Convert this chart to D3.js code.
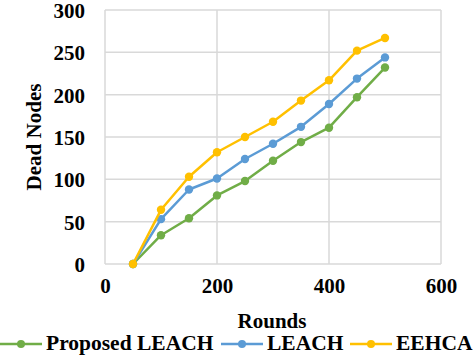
<!DOCTYPE html>
<html><head><meta charset="utf-8">
<script src="https://cdn.jsdelivr.net/npm/d3@7"></script>
<style>body{margin:0;background:#fff}svg{display:block}</style>
</head><body>
<script>
const rounds = [50,100,150,200,250,300,350,400,450,500];
const proposedLeach = [0,34,54,81,98,122,144,161,197,232];
const leach = [0,53,88,101,124,142,162,189,219,244];
const eehca = [0,64,103,132,150,168,193,217,252,267];
const xTicks = [0,200,400,600];
const yTicks = [0,50,100,150,200,250,300];
const seriesNames = ["Proposed LEACH","LEACH","EEHCA"];
const colors = ["#70AD47","#5B9BD5","#FFC000"];

const FONT="'Liberation Serif','Times New Roman',serif";
const W=474,H=356;
const svg=d3.select("body").append("svg").attr("width",W).attr("height",H);
const x=d3.scaleLinear().domain([0,600]).range([105,441]);
const y=d3.scaleLinear().domain([0,300]).range([264,10]);

function styleText(sel,fs){sel.style("font-family",FONT).style("font-weight","bold").style("font-size",fs+"px").style("fill","#000");}

const g=svg.append("g");
g.selectAll(".hg").data(yTicks).join("line")
 .attr("x1",x(0)).attr("x2",x(600)).attr("y1",d=>y(d)).attr("y2",d=>y(d))
 .attr("stroke","#d9d9d9").attr("stroke-width",1.5);
g.selectAll(".vg").data(xTicks).join("line")
 .attr("y1",y(0)).attr("y2",y(300)).attr("x1",d=>x(d)).attr("x2",d=>x(d))
 .attr("stroke","#d9d9d9").attr("stroke-width",1.5);

const fs=21;
const yAxis=d3.axisLeft(y).tickValues(yTicks).tickSize(0).tickPadding(20);
const ya=svg.append("g").attr("transform",`translate(${x(0)},0)`).call(yAxis);
ya.select(".domain").remove();
styleText(ya.selectAll("text"),fs);
ya.selectAll("text").attr("dy","0.36em");
const xAxis=d3.axisBottom(x).tickValues(xTicks).tickSize(0).tickPadding(14);
const xa=svg.append("g").attr("transform",`translate(0,${y(0)})`).call(xAxis);
xa.select(".domain").remove();
styleText(xa.selectAll("text"),fs);

styleText(svg.append("text").attr("transform",`translate(41,137) rotate(-90)`).attr("text-anchor","middle").text("Dead Nodes"),fs);
styleText(svg.append("text").attr("x",272).attr("y",328).attr("text-anchor","middle").text("Rounds"),fs);

const data=[proposedLeach,leach,eehca];
const line=d3.line().x((d,i)=>x(rounds[i])).y(d=>y(d));
data.forEach((s,k)=>{
  svg.append("path").datum(s).attr("d",line).attr("fill","none")
    .attr("stroke",colors[k]).attr("stroke-width",2.5).attr("stroke-linejoin","round");
  svg.selectAll(".m"+k).data(s).join("circle")
    .attr("cx",(d,i)=>x(rounds[i])).attr("cy",d=>y(d)).attr("r",4.2).attr("fill",colors[k]);
});

const legX=[0,221,350];
const leg=svg.append("g");
seriesNames.forEach((n,k)=>{
  const lx=legX[k], ly=344;
  leg.append("line").attr("x1",lx).attr("x2",lx+42).attr("y1",ly).attr("y2",ly)
    .attr("stroke",colors[k]).attr("stroke-width",2.5);
  leg.append("circle").attr("cx",lx+21).attr("cy",ly).attr("r",4).attr("fill",colors[k]);
  styleText(leg.append("text").attr("x",lx+46).attr("y",ly+6).text(n),21.5);
});
</script>
</body></html>
